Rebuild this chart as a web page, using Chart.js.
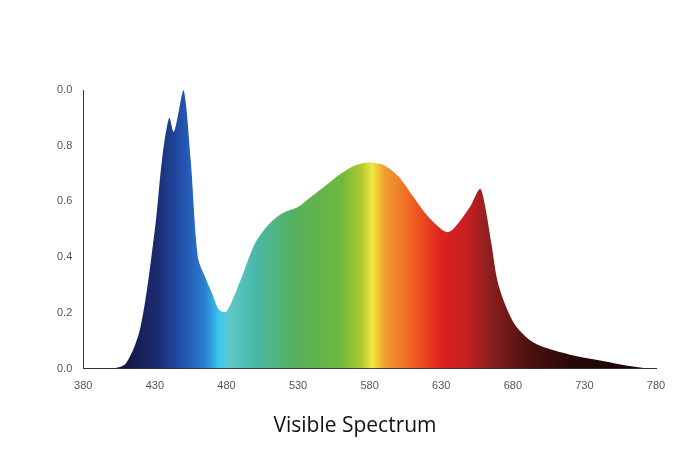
<!DOCTYPE html>
<html><head><meta charset="utf-8">
<script src="https://cdn.jsdelivr.net/npm/chart.js@4"></script>
<style>body{margin:0;background:#fff}</style>
</head><body>
<canvas id="c" width="696" height="459"></canvas>
<script>
const wavelengths=[380,400,410,420,430,435,440,443,445,450,455,460,465,470,475,480,490,500,510,520,530,540,550,560,570,580,590,600,610,620,630,635,640,650,657,660,665,670,680,690,700,720,740,760,775,780];
const intensity=[0,0,0.02,0.15,0.5,0.75,0.9,0.85,0.88,1.0,0.75,0.4,0.33,0.27,0.21,0.205,0.32,0.45,0.52,0.56,0.58,0.62,0.66,0.70,0.73,0.74,0.73,0.69,0.62,0.55,0.50,0.49,0.51,0.58,0.645,0.60,0.45,0.3,0.17,0.11,0.08,0.05,0.03,0.01,0,0];
const yTickLabels={1:'0.0',0.8:'0.8',0.6:'0.6',0.4:'0.4',0.2:'0.2',0:'0.0'};
const colorStops=[[400,'#101030'],[430,'#1a2a6c'],[450,'#2452b0'],[465,'#2a80d0'],[475,'#3cc8f0'],[482,'#60c8c8'],[500,'#48b8a8'],[530,'#58b058'],[560,'#70b840'],[574,'#b0c830'],[582,'#f0e840'],[590,'#f0a030'],[610,'#f06020'],[630,'#e02020'],[650,'#c02020'],[662,'#902020'],[690,'#501010'],[720,'#2a0808'],[780,'#100000']];
new Chart(document.getElementById('c'),{
type:'line',
data:{datasets:[{data:wavelengths.map((w,i)=>({x:w,y:intensity[i]})),fill:'origin',borderWidth:0,pointRadius:0,tension:0.3,
backgroundColor:(ctx)=>{const ch=ctx.chart,ca=ch.chartArea;if(!ca)return '#888';const xs=ch.scales.x;
const g=ch.ctx.createLinearGradient(xs.getPixelForValue(380),0,xs.getPixelForValue(780),0);
colorStops.forEach(s=>g.addColorStop((s[0]-380)/400,s[1]));return g;}}]},
options:{responsive:false,animation:false,
layout:{padding:{top:90,left:54,right:40,bottom:20}},
plugins:{legend:{display:false},tooltip:{enabled:false},
title:{display:true,text:'Visible Spectrum',position:'bottom',color:'#111',font:{family:'Open Sans',size:21,weight:'normal'},padding:{top:18}}},
scales:{x:{type:'linear',min:380,max:780,ticks:{stepSize:50,color:'#555',font:{family:'Liberation Sans',size:11}},grid:{display:false},border:{color:'#333'}},
y:{min:0,max:1,ticks:{stepSize:0.2,color:'#555',font:{family:'Liberation Sans',size:11},callback:v=>yTickLabels[Math.round(v*10)/10]},grid:{display:false},border:{color:'#333'}}}}
});
</script></body></html>
